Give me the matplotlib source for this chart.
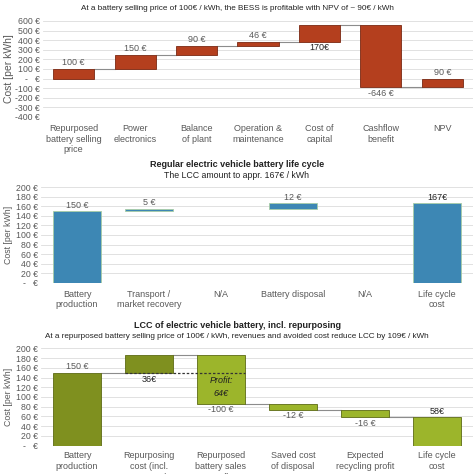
import matplotlib
matplotlib.use("Agg")
import matplotlib.pyplot as plt
from matplotlib.ticker import FuncFormatter, MultipleLocator

plt.rcParams['font.family'] = ['Liberation Sans', 'DejaVu Sans']

# ---------------- data ----------------
p1_categories = ["Repurposed\nbattery selling\nprice", "Power\nelectronics", "Balance\nof plant",
                 "Operation &\nmaintenance", "Cost of\ncapital", "Cashflow\nbenefit", "NPV"]
p1_bottoms = [0, 100, 250, 340, 386, -90, -90]
p1_tops = [100, 250, 340, 386, 556, 556, 0]
p1_labels = ["100 €", "150 €", "90 €", "46 €", "170€", "-646 €", "90 €"]

p2_categories = ["Battery\nproduction", "Transport /\nmarket recovery", "N/A",
                 "Battery disposal", "N/A", "Life cycle\ncost"]
p2_bottoms = [0, 150, None, 155, None, 0]
p2_tops = [150, 155, None, 167, None, 167]
p2_labels = ["150 €", "5 €", "", "12 €", "", "167€"]

p3_categories = ["Battery\nproduction", "Repurposing\ncost (incl.\ntransport)", "Repurposed\nbattery sales\nprofit",
                 "Saved cost\nof disposal\n****", "Expected\nrecycling profit\n****", "Life cycle\ncost"]
p3_bottoms = [0, 150, 86, 74, 58, 0]
p3_tops = [150, 186, 186, 86, 74, 58]
p3_labels = ["150 €", "36€", "-100 €", "-12 €", "-16 €", "58€"]
p3_profit_label = "Profit:\n64€"

RED = "#B43F1E"
RED_E = "#7A2812"
BLUE = "#3D87B4"
BLUE_E = "#A8CDA6"
GDARK = "#7F901F"
GLIGHT = "#9CB52B"
G_E = "#5C6A14"
TXT = "#595959"
GRID = "#DCDCDC"
CONN = "#8C8C8C"

W = 4.74
fig = plt.figure(figsize=(W, W), dpi=100)

def fy(px):
    return 1 - px / 474.0

def fmt(v, pos):
    if abs(v) < 1e-9:
        return "-   €"
    return f"{int(round(v))} €"

def setup(ax, ylo, yhi, step, n):
    ax.set_ylim(ylo, yhi)
    ax.set_xlim(-0.5, n - 0.5)
    ax.yaxis.set_major_locator(MultipleLocator(step))
    ax.yaxis.set_major_formatter(FuncFormatter(fmt))
    for s in ax.spines.values():
        s.set_visible(False)
    ax.tick_params(axis='both', length=0, labelsize=6.3, colors=TXT, pad=2)
    ax.grid(axis='y', color=GRID, lw=0.6)
    ax.set_axisbelow(True)
    ax.set_xticks(range(n))

BW = 0.67

# ---------------- panel 1 ----------------
ax1 = fig.add_axes([43/474, fy(117), 430/474, (117-21)/474])
setup(ax1, -400, 600, 100, len(p1_categories))
ax1.set_xticklabels(p1_categories, fontsize=6.5, color=TXT, linespacing=1.25, va='top')
ax1.tick_params(axis='x', pad=5)
for i, (b, t) in enumerate(zip(p1_bottoms, p1_tops)):
    ax1.bar(i, t - b, bottom=b, width=BW, color=RED, edgecolor=RED_E, lw=0.6, zorder=3)
# connectors
for i in range(len(p1_tops) - 1):
    if i == 4:
        lvl = p1_tops[4]
    elif i == 5:
        lvl = p1_bottoms[5]
    else:
        lvl = p1_tops[i]
    ax1.plot([i + BW/2, i + 1 - BW/2], [lvl, lvl], color=CONN, lw=0.8, zorder=2)
for i, lab in enumerate(p1_labels):
    if i in (4, 5):
        ax1.text(i, p1_bottoms[i] - 18, lab, ha='center', va='top', fontsize=6.5,
                 color="#222222" if i == 4 else TXT)
    else:
        ax1.text(i, p1_tops[i] + 18, lab, ha='center', va='bottom', fontsize=6.5, color=TXT)
fig.text(0.018, fy(69), "Cost [per kWh]", rotation=90, ha='center', va='center', fontsize=7.5, color=TXT)
fig.text(0.5, fy(8), "At a battery selling price of 100€ / kWh, the BESS is profitable with NPV of ~ 90€ / kWh",
         ha='center', va='center', fontsize=5.9, color="#222222")

# ---------------- panel 2 ----------------
ax2 = fig.add_axes([41/474, fy(282.7), 432/474, (282.7-187.3)/474])
setup(ax2, 0, 200, 20, len(p2_categories))
ax2.set_xticklabels(p2_categories, fontsize=6.5, color=TXT, linespacing=1.25, va='top')
ax2.tick_params(axis='x', pad=5)
for i, (b, t) in enumerate(zip(p2_bottoms, p2_tops)):
    if b is None:
        continue
    ax2.bar(i, t - b, bottom=b, width=BW, color=BLUE, edgecolor=BLUE_E, lw=0.6, zorder=3)
for i, lab in enumerate(p2_labels):
    if not lab:
        continue
    ax2.text(i, p2_tops[i] + 3, lab, ha='center', va='bottom', fontsize=6.5,
             color="#222222" if i == 5 else TXT)
fig.text(0.018, fy(235), "Cost [per kWh]", rotation=90, ha='center', va='center', fontsize=6.3, color=TXT)
fig.text(0.5, fy(164.5), "Regular electric vehicle battery life cycle", ha='center', va='center',
         fontsize=6.5, fontweight='bold', color="#222222")
fig.text(0.5, fy(175.5), "The LCC amount to appr. 167€ / kWh", ha='center', va='center',
         fontsize=6.3, color="#222222")

# ---------------- panel 3 ----------------
ax3 = fig.add_axes([41/474, fy(445.7), 432/474, (445.7-348.3)/474])
setup(ax3, 0, 200, 20, len(p3_categories))
ax3.set_xticklabels(p3_categories, fontsize=6.5, color=TXT, linespacing=1.25, va='top')
ax3.tick_params(axis='x', pad=4)
cols3 = [GDARK, GDARK, GLIGHT, GLIGHT, GLIGHT, GLIGHT]
for i, (b, t) in enumerate(zip(p3_bottoms, p3_tops)):
    ax3.bar(i, t - b, bottom=b, width=BW, color=cols3[i], edgecolor=G_E, lw=0.6, zorder=3)
# connectors
ax3.plot([0 + BW/2, 1 - BW/2], [p3_tops[0]] * 2, color=CONN, lw=0.8, zorder=2)
ax3.plot([1 + BW/2, 2 - BW/2], [p3_tops[1]] * 2, color=CONN, lw=0.8, zorder=2)
ax3.plot([2 + BW/2, 3 - BW/2], [p3_bottoms[2]] * 2, color=CONN, lw=0.8, zorder=2)
ax3.plot([3 + BW/2, 4 - BW/2], [p3_bottoms[3]] * 2, color=CONN, lw=0.8, zorder=2)
ax3.plot([4 + BW/2, 5 - BW/2], [p3_bottoms[4]] * 2, color=CONN, lw=0.8, zorder=2)
ax3.plot([1 - BW/2, 2 + BW/2], [p3_bottoms[1]] * 2, color="#333333", lw=0.9, ls=(0, (2, 1.5)), zorder=4)
for i, lab in enumerate(p3_labels):
    if i in (0, 5):
        ax3.text(i, p3_tops[i] + 3, lab, ha='center', va='bottom', fontsize=6.5,
                 color="#222222" if i == 5 else TXT)
    elif i == 1:
        ax3.text(i, p3_bottoms[i] - 4, lab, ha='center', va='top', fontsize=6.5, color="#222222")
    else:
        ax3.text(i, p3_bottoms[i] - 3, lab, ha='center', va='top', fontsize=6.5, color=TXT)
ax3.text(2, (p3_bottoms[1] + p3_bottoms[2]) / 2 + 2, p3_profit_label, ha='center', va='center',
         fontsize=6.5, style='italic', color="#222222", zorder=5, linespacing=1.6)
fig.text(0.018, fy(397), "Cost [per kWh]", rotation=90, ha='center', va='center', fontsize=6.3, color=TXT)
fig.text(0.5, fy(325.7), "LCC of electric vehicle battery, incl. repurposing", ha='center', va='center',
         fontsize=6.5, fontweight='bold', color="#222222")
fig.text(0.5, fy(336.5), "At a repurposed battery selling price of 100€ / kWh, revenues and avoided cost reduce LCC by 109€ / kWh",
         ha='center', va='center', fontsize=5.9, color="#222222")

fig.savefig("out.png", dpi=100)
